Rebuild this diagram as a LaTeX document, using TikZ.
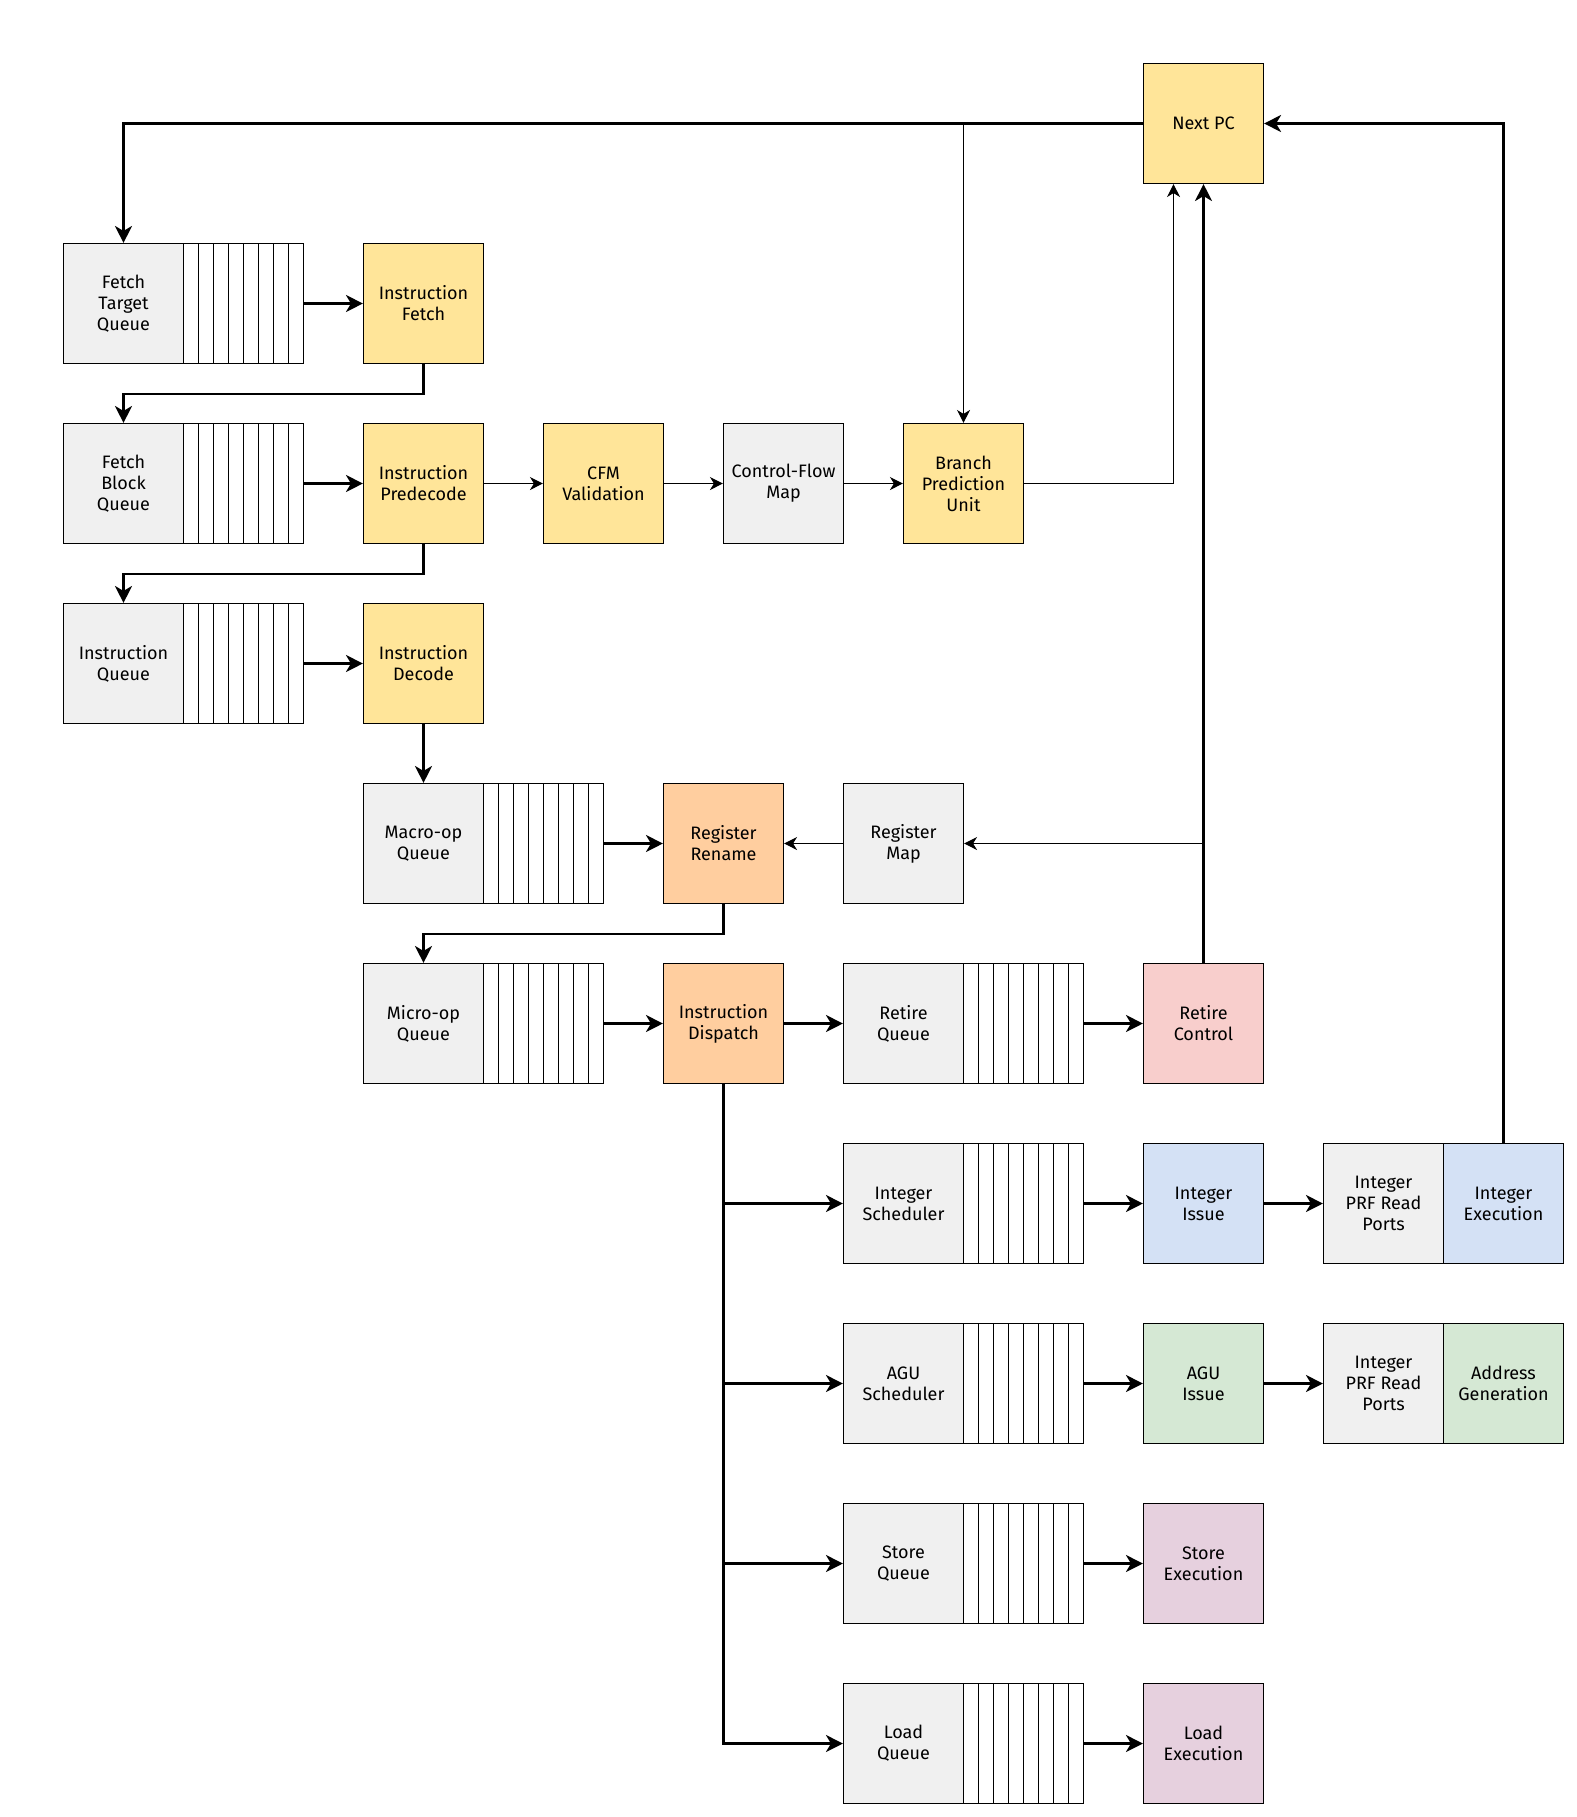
\documentclass[tikz,border=0pt]{standalone}
\usepackage{fontspec}
\setmainfont{Fira Sans}
\usetikzlibrary{arrows.meta,calc}
\definecolor{cyellow}{HTML}{FFE599}
\definecolor{cgray}{HTML}{F0F0F0}
\definecolor{corange}{HTML}{FFCE9F}
\definecolor{cpink}{HTML}{F8CECC}
\definecolor{cblue}{HTML}{D4E1F5}
\definecolor{cgreen}{HTML}{D5E8D4}
\definecolor{cpurple}{HTML}{E6D0DE}
\tikzset{
  box/.style={rectangle, draw=black, line width=1.1bp, minimum width=120bp, minimum height=120bp,
    inner sep=0pt, align=center, font=\fontsize{18bp}{21bp}\selectfont},
  ybox/.style={box, fill=cyellow},
  gbox/.style={box, fill=cgray},
  obox/.style={box, fill=corange},
  pbox/.style={box, fill=cpink},
  bbox/.style={box, fill=cblue},
  grbox/.style={box, fill=cgreen},
  vbox/.style={box, fill=cpurple},
  stripes/.style={box, fill=white, path picture={
      \foreach \i in {1,...,7}{
        \draw[line width=1.1bp] ([xshift=\i*15bp]path picture bounding box.north west) --
              ([xshift=\i*15bp]path picture bounding box.south west);}}},
  thickarr/.style={line width=2.3bp, -{Stealth[length=17bp,width=17bp,inset=5bp]}},
  thinarr/.style={line width=1.1bp, -{Stealth[length=13bp,width=13bp,inset=4bp]}}
}
\begin{document}
\begin{tikzpicture}[x=1bp,y=-1bp]
\useasboundingbox (0,0) rectangle (1577,1817);
% row 0
\node[ybox] (npc) at (1203.5,123.5) {Next PC};
% row 1
\node[gbox] (ftq) at (123.5,303.5) {Fetch\\Target\\Queue};
\node[stripes] (ftqs) at (243.5,303.5) {};
\node[ybox] (ifetch) at (423.5,303.5) {Instruction\\Fetch};
% row 2
\node[gbox] (fbq) at (123.5,483.5) {Fetch\\Block\\Queue};
\node[stripes] (fbqs) at (243.5,483.5) {};
\node[ybox] (pd) at (423.5,483.5) {Instruction\\Predecode};
\node[ybox] (cfm) at (603.5,483.5) {CFM\\Validation};
\node[gbox] (cfmap) at (783.5,483.5) {Control-Flow\\Map};
\node[ybox] (bpu) at (963.5,483.5) {Branch\\Prediction\\Unit};
% row 3
\node[gbox] (iq) at (123.5,663.5) {Instruction\\Queue};
\node[stripes] (iqs) at (243.5,663.5) {};
\node[ybox] (dec) at (423.5,663.5) {Instruction\\Decode};
% row 4
\node[gbox] (moq) at (423.5,843.5) {Macro-op\\Queue};
\node[stripes] (moqs) at (543.5,843.5) {};
\node[obox] (rn) at (723.5,843.5) {Register\\Rename};
\node[gbox] (rmap) at (903.5,843.5) {Register\\Map};
% row 5
\node[gbox] (uoq) at (423.5,1023.5) {Micro-op\\Queue};
\node[stripes] (uoqs) at (543.5,1023.5) {};
\node[obox] (disp) at (723.5,1023.5) {Instruction\\Dispatch};
\node[gbox] (rq) at (903.5,1023.5) {Retire\\Queue};
\node[stripes] (rqs) at (1023.5,1023.5) {};
\node[pbox] (rc) at (1203.5,1023.5) {Retire\\Control};
% row 6
\node[gbox] (isch) at (903.5,1203.5) {Integer\\Scheduler};
\node[stripes] (ischs) at (1023.5,1203.5) {};
\node[bbox] (iiss) at (1203.5,1203.5) {Integer\\Issue};
\node[gbox] (iprf) at (1383.5,1203.5) {Integer\\PRF Read\\Ports};
\node[bbox] (iexe) at (1503.5,1203.5) {Integer\\Execution};
% row 7
\node[gbox] (asch) at (903.5,1383.5) {AGU\\Scheduler};
\node[stripes] (aschs) at (1023.5,1383.5) {};
\node[grbox] (aiss) at (1203.5,1383.5) {AGU\\Issue};
\node[gbox] (aprf) at (1383.5,1383.5) {Integer\\PRF Read\\Ports};
\node[grbox] (agen) at (1503.5,1383.5) {Address\\Generation};
% row 8
\node[gbox] (sq) at (903.5,1563.5) {Store\\Queue};
\node[stripes] (sqs) at (1023.5,1563.5) {};
\node[vbox] (sexe) at (1203.5,1563.5) {Store\\Execution};
% row 9
\node[gbox] (lq) at (903.5,1743.5) {Load\\Queue};
\node[stripes] (lqs) at (1023.5,1743.5) {};
\node[vbox] (lexe) at (1203.5,1743.5) {Load\\Execution};

% connectors
\draw[thickarr] (npc.west) -| (ftq.north);
\draw[thinarr] (bpu.north |- npc.west) -- (bpu.north);
\draw[thickarr] (ftqs.east) -- (ifetch.west);
\draw[thickarr] (ifetch.south) -- ++(0,30) -| (fbq.north);
\draw[thickarr] (fbqs.east) -- (pd.west);
\draw[thinarr] (pd.east) -- (cfm.west);
\draw[thinarr] (cfm.east) -- (cfmap.west);
\draw[thinarr] (cfmap.east) -- (bpu.west);
\draw[thinarr] (bpu.east) -| ([xshift=-30bp]npc.south);
\draw[thickarr] (pd.south) -- ++(0,30) -| (iq.north);
\draw[thickarr] (iqs.east) -- (dec.west);
\draw[thickarr] (dec.south) -- (moq.north);
\draw[thickarr] (moqs.east) -- (rn.west);
\draw[thinarr] (rmap.west) -- (rn.east);
\draw[thickarr] (rc.north) -- (npc.south);
\draw[thinarr] (rc.north |- rmap.east) -- (rmap.east);
\draw[thickarr] (rn.south) -- ++(0,30) -| (uoq.north);
\draw[thickarr] (uoqs.east) -- (disp.west);
\draw[thickarr] (disp.east) -- (rq.west);
\draw[thickarr] (rqs.east) -- (rc.west);
\draw[thickarr] (disp.south) |- (isch.west);
\draw[thickarr] (disp.south) |- (asch.west);
\draw[thickarr] (disp.south) |- (sq.west);
\draw[thickarr] (disp.south) |- (lq.west);
\draw[thickarr] (ischs.east) -- (iiss.west);
\draw[thickarr] (iiss.east) -- (iprf.west);
\draw[thickarr] (iexe.north) |- (npc.east);
\draw[thickarr] (aschs.east) -- (aiss.west);
\draw[thickarr] (aiss.east) -- (aprf.west);
\draw[thickarr] (sqs.east) -- (sexe.west);
\draw[thickarr] (lqs.east) -- (lexe.west);
\end{tikzpicture}
\end{document}
